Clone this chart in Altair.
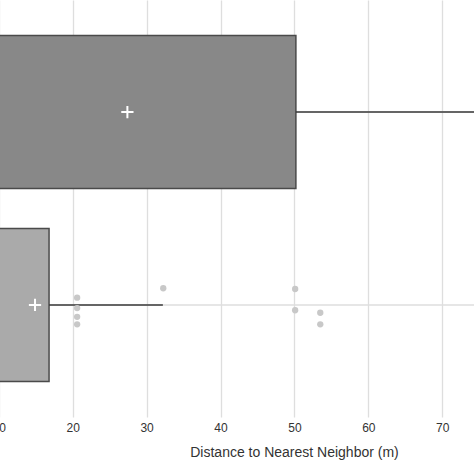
import altair as alt
import pandas as pd

# Summary values
groups = ["Group A", "Group B"]
q1 = [4.0, 3.0]            # lower box edges (off the visible area)
q3 = [50.2, 16.8]          # upper box edges
whisker_hi = [86.0, 32.2]  # upper whisker ends
means = [27.4, 14.9]
fills = ["#888888", "#aaaaaa"]

# Individual observations (jittered dots) for Group B (index 1), jitter in band steps
pt_index = [1, 1, 1, 1, 1, 1, 1, 1, 1]
pt_x = [20.6, 20.6, 20.6, 20.6, 32.25, 50.1, 50.1, 53.5, 53.5]
pt_jit = [-0.038, 0.016, 0.061, 0.100, -0.087, -0.083, 0.027, 0.040, 0.100]

x_ticks = [10, 20, 30, 40, 50, 60, 70]

box_df = pd.DataFrame({"group": groups, "q1": q1, "q3": q3, "hi": whisker_hi,
                       "mean": means, "fill": fills})
pts_df = pd.DataFrame({"idx": pt_index, "x": pt_x, "jit": pt_jit})
pts_df["pos"] = pts_df["idx"] + pts_df["jit"]

xscale = alt.Scale(domain=[10, 74.3], range=[-1.2, 474], nice=False, zero=False)
yscale = alt.Scale(domain=groups, paddingInner=0.2073, paddingOuter=0.184)

xaxis = alt.Axis(values=x_ticks, grid=True, gridColor="#dedede", gridWidth=1.3,
                 domain=False, ticks=False, tickSize=0, labelPadding=5,
                 labelFlush=False, labelOverlap=False, labelFontSize=12,
                 labelColor="#333333", labelFont="Liberation Sans",
                 title="Distance to Nearest Neighbor (m)", titleFontSize=14,
                 titleFontWeight="normal", titleColor="#333333",
                 titleFont="Liberation Sans", titleX=294, titleY=35,
                 titleAlign="center", titleBaseline="middle")

base = alt.Chart(box_df)

hgrid = base.mark_rule(color="#dedede", strokeWidth=1.3).encode(
    y=alt.Y("group:N", scale=yscale, axis=None, sort=groups),
)

boxes = base.mark_bar(stroke="#4a4a4a", strokeWidth=1.5, clip=True).encode(
    x=alt.X("q1:Q", scale=xscale, axis=xaxis),
    x2="q3:Q",
    y=alt.Y("group:N", scale=yscale, axis=None, sort=groups),
    fill=alt.Fill("fill:N", scale=None),
)

whiskers = base.mark_rule(color="#3a3a3a", strokeWidth=1.5, clip=True).encode(
    x=alt.X("q3:Q", scale=xscale),
    x2="hi:Q",
    y=alt.Y("group:N", scale=yscale, sort=groups),
)

mean_marks = base.mark_point(shape="M-1,0L1,0M0,-1L0,1", size=150, filled=False,
                             stroke="white", strokeWidth=2, opacity=1, clip=True).encode(
    x=alt.X("mean:Q", scale=xscale),
    y=alt.Y("group:N", scale=yscale, sort=groups),
)

box_layer = alt.layer(hgrid, boxes, whiskers, mean_marks)

points = alt.Chart(pts_df).mark_circle(size=40, color="#c8c8c8", opacity=1, clip=True).encode(
    x=alt.X("x:Q", scale=xscale),
    y=alt.Y("pos:Q", scale=alt.Scale(domain=[-0.580, 1.580], reverse=True, nice=False, zero=False),
            axis=None),
)

chart = alt.layer(box_layer, points).resolve_scale(y="independent").properties(
    width=474, height=417,
    background="white",
    autosize=alt.AutoSizeParams(type="none"),
    padding={"left": 0, "top": 0, "right": 0, "bottom": 57},
).configure_view(stroke=None)

chart.save("out.html", embed_options={"renderer": "svg", "actions": False})
